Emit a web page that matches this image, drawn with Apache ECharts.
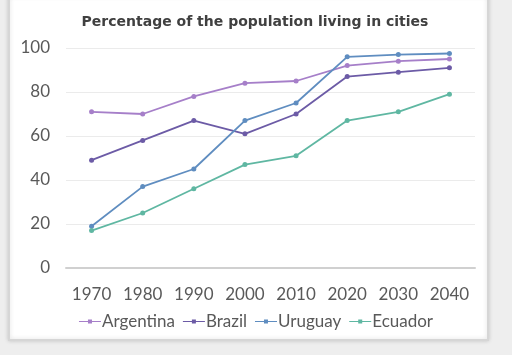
<!DOCTYPE html>
<html><head><meta charset="utf-8">
<script src="https://cdn.jsdelivr.net/npm/echarts@6/dist/echarts.min.js"></script>
<style>html,body{margin:0;padding:0;background:#eeeeee;}#c{width:512px;height:355px;}</style>
</head><body><div id="c"></div>
<script>
const years = ['1970','1980','1990','2000','2010','2020','2030','2040'];
const argentina = [71, 70, 78, 84, 85, 92, 94, 95];
const brazil = [49, 58, 67, 61, 70, 87, 89, 91];
const uruguay = [19, 37, 45, 67, 75, 96, 97, 97.5];
const ecuador = [17, 25, 36, 47, 51, 67, 71, 79];
const names = ['Argentina','Brazil','Uruguay','Ecuador'];
const colors = ['#a67fc9','#6c5ba6','#5f8dc0','#5fb7a2'];
const font = 'Lato';
const chart = echarts.init(document.getElementById('c'));
const mk = (n, d, i) => ({
  name: n, type: 'line', data: d, symbol: 'circle', symbolSize: 5,
  lineStyle: {width: 1.8, color: colors[i]}, itemStyle: {color: colors[i]}
});
chart.setOption({
  backgroundColor: '#eeeeee',
  animation: false,
  graphic: [{type: 'rect', z: -10, shape: {x: 9, y: -4, width: 479, height: 344},
    style: {fill: '#ffffff', stroke: '#d6d6d6', lineWidth: 2, shadowBlur: 4, shadowColor: 'rgba(0,0,0,0.15)'}}],
  title: {text: 'Percentage of the population living in cities', left: 250, textAlign: 'center', top: 10,
    textStyle: {fontFamily: 'DejaVu Sans', fontSize: 14, fontWeight: 'bold', color: '#404040'}},
  legend: {bottom: 20, left: 'center', itemWidth: 22, itemHeight: 5, itemGap: 8,
    icon: 'path://M0,2 L22,2 L22,3 L0,3 Z M9,0.5 L13,0.5 L13,4.5 L9,4.5 Z',
    textStyle: {fontFamily: font, fontSize: 17, color: '#595959', padding: [0,0,0,-4]}},
  grid: {left: 66, right: 37, top: 48, bottom: 87, containLabel: false},
  xAxis: {type: 'category', data: years, boundaryGap: true,
    axisLine: {lineStyle: {color: '#d0d0d0', width: 2}}, axisTick: {show: false},
    axisLabel: {interval: 0, fontFamily: font, fontSize: 17, color: '#595959', margin: 18}},
  yAxis: {type: 'value', min: 0, max: 100, interval: 20,
    axisLine: {show: false}, axisTick: {show: false},
    splitLine: {lineStyle: {color: '#ebebeb', width: 1}},
    axisLabel: {fontFamily: font, fontSize: 17, color: '#595959', margin: 16}},
  series: [mk(names[0], argentina, 0), mk(names[1], brazil, 1), mk(names[2], uruguay, 2), mk(names[3], ecuador, 3)]
});
</script></body></html>
